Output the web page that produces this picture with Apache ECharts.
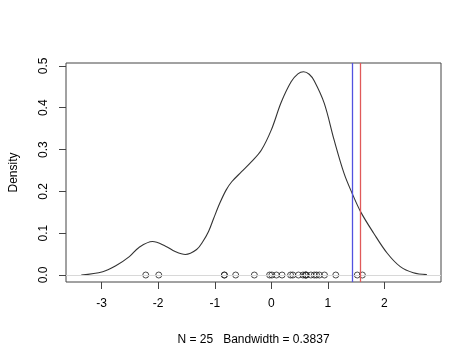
<!DOCTYPE html>
<html>
<head>
<meta charset="utf-8">
<script src="https://cdn.jsdelivr.net/npm/echarts@6/dist/echarts.min.js"></script>
<style>
  html, body { margin: 0; padding: 0; background: #fff; }
  #main { width: 474px; height: 363px; }
</style>
</head>
<body>
<div id="main"></div>
<script>
  // density curve
  var curveX = [-3.36, -2.98, -2.75, -2.51, -2.34, -2.10, -1.87, -1.70, -1.52, -1.32, -1.21, -1.11, -1.02, -0.91, -0.80, -0.70,
                -0.526, -0.35, -0.175, 0.0, 0.175, 0.35, 0.47, 0.57, 0.67, 0.76, 0.935, 1.11, 1.286, 1.43, 1.58, 1.81, 2.05, 2.28, 2.51, 2.75];
  var curveY = [0.0, 0.008, 0.022, 0.044, 0.066, 0.080, 0.069, 0.056, 0.049, 0.061, 0.080, 0.104, 0.135, 0.172, 0.203, 0.223,
                0.247, 0.271, 0.299, 0.347, 0.413, 0.462, 0.481, 0.486, 0.480, 0.464, 0.411, 0.323, 0.243, 0.195, 0.151, 0.100, 0.052, 0.020, 0.0055, 0.001];
  // observations (rug of circles at y = 0)
  var obs = [-2.22, -1.99, -0.83, -0.83, -0.63, -0.30, -0.03, 0.01, 0.09, 0.19, 0.34, 0.38, 0.48, 0.56, 0.60, 0.61, 0.62,
             0.70, 0.76, 0.80, 0.85, 0.94, 1.14, 1.52, 1.61];
  var blueLine = 1.433;
  var redLine = 1.579;
  var xTicks = [-3, -2, -1, 0, 1, 2];
  var yTicks = [0, 0.1, 0.2, 0.3, 0.4, 0.5];

  var myChart = echarts.init(document.getElementById('main'));
  var font = 'Liberation Sans, Arial, sans-serif';

  myChart.setOption({
    animation: false,
    grid: {
      left: 63, right: 33, top: 63, bottom: 81,
      show: true, borderColor: '#444', borderWidth: 1
    },
    xAxis: {
      type: 'value',
      min: -3.63, max: 3.0,
      name: 'N = 25   Bandwidth = 0.3837',
      nameLocation: 'middle',
      nameGap: 52,
      nameTextStyle: { color: '#000', fontSize: 12, fontFamily: font },
      axisLine: { show: false, onZero: false },
      splitLine: { show: false },
      axisTick: { show: true, length: 7, customValues: xTicks, lineStyle: { color: '#444' } },
      axisLabel: {
        customValues: xTicks, margin: 16,
        color: '#000', fontSize: 12, fontFamily: font
      }
    },
    yAxis: {
      type: 'value',
      min: -0.0167, max: 0.507,
      name: 'Density',
      nameLocation: 'middle',
      nameGap: 46,
      nameRotate: 90,
      nameTextStyle: { color: '#000', fontSize: 12, fontFamily: font },
      axisLine: { show: false, onZero: false },
      splitLine: { show: false },
      axisTick: { show: true, length: 7, customValues: yTicks, lineStyle: { color: '#444' } },
      axisLabel: {
        customValues: yTicks, margin: 16, rotate: 90,
        color: '#000', fontSize: 12, fontFamily: font,
        formatter: function (v) { return v.toFixed(1); }
      }
    },
    series: [
      {
        type: 'line',
        data: curveX.map(function (x, i) { return [x, curveY[i]]; }),
        smooth: 0.35,
        showSymbol: false,
        lineStyle: { color: '#333', width: 1.1 },
        markLine: {
          silent: true,
          symbol: 'none',
          label: { show: false },
          data: [
            { yAxis: 0, lineStyle: { color: '#d8d8d8', width: 1, type: 'solid' } },
            { xAxis: blueLine, lineStyle: { color: '#5252e0', width: 1.3, type: 'solid' } },
            { xAxis: redLine, lineStyle: { color: '#e05a5a', width: 1.3, type: 'solid' } }
          ]
        },
        z: 3
      },
      {
        type: 'scatter',
        data: obs.map(function (x) { return [x, 0]; }),
        symbol: 'circle',
        symbolSize: 6,
        itemStyle: { color: 'rgba(0,0,0,0)', borderColor: '#222', borderWidth: 1 },
        z: 4
      }
    ]
  });
</script>
</body>
</html>
